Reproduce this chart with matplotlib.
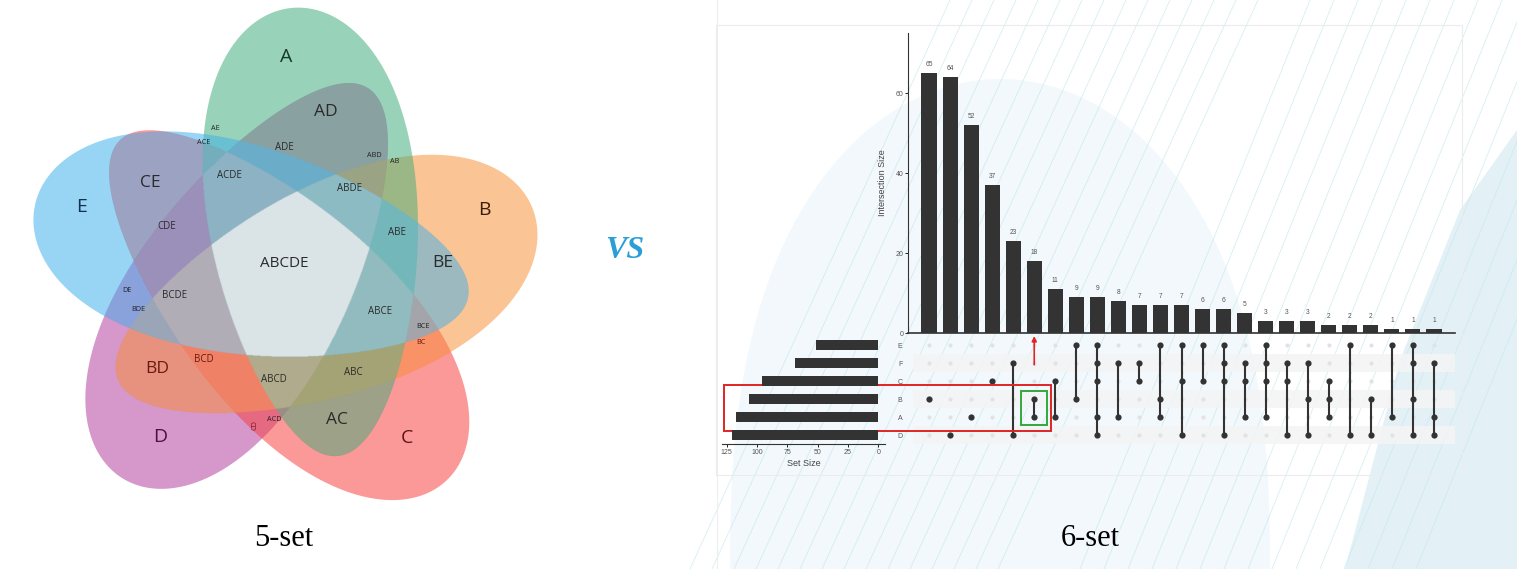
import numpy as np
import matplotlib
matplotlib.use("Agg")
import matplotlib.pyplot as plt
from matplotlib.patches import Polygon, Rectangle
from matplotlib.path import Path

# ---- 5-set venn (left) ----
venn_order = ["D", "C", "B", "A", "E"]          # drawing order
venn_colors = {"A": "#1fa167", "B": "#f77f19", "C": "#f71f1f",
               "D": "#a71f8d", "E": "#1fa5eb"}
# outer tip / inner tip of each petal, in picture pixels
venn_tips = {
    "A": ((291, 8), (338, 456)),
    "B": ((532, 207), (118, 380)),
    "C": ((447, 480), (120, 140)),
    "D": ((122, 478), (368, 88)),
    "E": ((35, 205), (468, 298)),
}
venn_regions = ["A", "AD", "AE", "ACE", "ADE", "ABD", "AB", "ACDE", "ABDE", "CE",
                "E", "B", "CDE", "ABE", "ABCDE", "BE", "DE", "BCDE", "BDE", "ABCE",
                "BCE", "BC", "BCD", "BD", "ABCD", "ABC", "AC", "CD", "ACD", "D", "C"]
venn_label_xy = [(286, 57), (326, 112), (215, 128), (204, 142), (284, 147), (374, 155),
                 (395, 161), (229, 175), (350, 188), (150, 183), (82, 207), (484, 210),
                 (167, 226), (397, 232), (284, 263), (443, 263), (127, 290), (175, 295),
                 (138, 309), (380, 311), (423, 326), (421, 342), (204, 359), (157, 369),
                 (274, 379), (353, 372), (337, 420), (255, 425), (274, 419), (160, 437),
                 (407, 438)]

# ---- 6-set upset (right) ----
upset_rows = ["E", "F", "C", "B", "A", "D"]
set_sizes = [51, 69, 96, 107, 117, 121]
combos = ["B", "D", "A", "C", "FD", "BA", "CA", "EB", "EFCAD", "FA", "FC", "EBA", "ECD",
          "EC", "EFCD", "FCA", "EFCA", "FCD", "FBD", "CBA", "ED", "BD", "EA", "EFBD", "FAD"]
inter_sizes = [65, 64, 52, 37, 23, 18, 11, 9, 9, 8, 7, 7, 7, 6, 6, 5, 3, 3, 3, 2, 2, 2, 1, 1, 1]
highlight_col = 5


def egg(outer, inner, width, k=0.2, n=240):
    o = np.array(outer, float)
    i = np.array(inner, float)
    c = (o + i) / 2
    L = np.linalg.norm(o - i)
    d = (o - i) / L
    nrm = np.array([-d[1], d[0]])
    t = np.linspace(0, 2 * np.pi, n)
    u = L / 2 * np.cos(t)
    v = width / 2 * np.sin(t) * (1 + k * np.cos(t))
    return c + np.outer(u, d) + np.outer(v, nrm)


W, H = 1517, 569
fig = plt.figure(figsize=(W / 100, H / 100), dpi=100)
fig.patch.set_facecolor("white")

canvas = fig.add_axes([0, 0, 1, 1])
canvas.set_xlim(0, W)
canvas.set_ylim(H, 0)
canvas.axis("off")

# background decoration of the right panel
tt = np.linspace(0, np.pi, 80)
hill = np.column_stack([1000 - 270 * np.cos(tt), 569 - 490 * np.sin(tt) ** 0.8])
canvas.add_patch(Polygon(hill, closed=True, facecolor="#e8f4f9", edgecolor="none",
                         alpha=0.55, zorder=0))
canvas.add_patch(Polygon([(1517, 130), (1460, 210), (1400, 360), (1345, 569), (1517, 569)],
                         closed=True, facecolor="#ddeef6", edgecolor="none", alpha=0.8, zorder=0))
for x0 in np.arange(690, 1000, 22):
    canvas.plot([x0, x0 + 260], [569, 0], color="#c4e8ec", lw=0.6, alpha=0.7, zorder=0)
for x0 in np.arange(1080, 1420, 24):
    canvas.plot([x0, x0 + 230], [569, 0], color="#c4e8ec", lw=0.6, alpha=0.7, zorder=0)
canvas.add_patch(Rectangle((716, 25), 746, 450, fill=False, edgecolor="#ececec", lw=0.8, zorder=0))
canvas.plot([717, 717], [0, 569], color="#eeeeee", lw=0.8, zorder=0)

# venn petals
shapes = {}
for s in venn_order:
    o, i = venn_tips[s]
    shapes[s] = egg(o, i, 208)
    canvas.add_patch(Polygon(shapes[s], closed=True, facecolor=venn_colors[s],
                             edgecolor="none", alpha=0.46, zorder=1))

# lighten the deep overlaps, pale core where all five meet
gx, gy = np.meshgrid(np.linspace(0, 560, 1120), np.linspace(0, 500, 1000))
pts = np.column_stack([gx.ravel(), gy.ravel()])
count = np.zeros(len(pts), int)
for s in venn_order:
    count += Path(shapes[s]).contains_points(pts)
count = count.reshape(1000, 1120)
over = np.zeros((1000, 1120, 4))
over[..., :3] = 1.0
over[..., 3] = np.select([count == 2, count == 3, count == 4], [0.06, 0.14, 0.32], 0.0)
core = count == 5
over[core, 0], over[core, 1], over[core, 2] = 226 / 255, 233 / 255, 235 / 255
over[core, 3] = 0.95
canvas.imshow(over, extent=(0, 560, 500, 0), interpolation="bilinear", aspect="auto", zorder=2)
canvas.set_xlim(0, W)
canvas.set_ylim(H, 0)

tint = {"A": "#143a2a", "B": "#3a1e0c", "C": "#5a1515", "D": "#4a1040", "E": "#14324c"}
for name, (x, y) in zip(venn_regions, venn_label_xy):
    rot = 0
    if len(name) == 1:
        fs, col = 14, tint[name]
    elif name == "ABCDE":
        fs, col = 11, "#2a2a2a"
    elif name in ("AD", "CE", "BD", "BE", "AC"):
        fs, col = 12.5, "#2a2a2a"
    elif name in ("AE", "ACE", "ABD", "AB", "DE", "BDE", "BCE", "BC", "CD", "ACD"):
        fs, col = 5.2, "#222222"
        if name == "CD":
            rot, col = 90, "#7a1020"
    else:
        fs, col = 7, "#2a2a2a"
    if name in ("BCD", "BD", "BC"):
        col = "#6a1a10"
    canvas.text(x, y, name, fontsize=fs, color=col, ha="center", va="center", rotation=rot,
                family=["Open Sans", "DejaVu Sans"], zorder=3)

canvas.text(284, 538, "5-set", fontsize=22, family="Liberation Serif", ha="center", va="center")
canvas.text(1090, 538, "6-set", fontsize=22, family="Liberation Serif", ha="center", va="center")
canvas.text(625, 250, "VS", fontsize=23, family="Liberation Serif", weight="bold", style="italic",
            color="#2a9fd6", ha="center", va="center")

# ---- upset axes ----
fx = lambda px: px / W
fy = lambda py: 1 - py / H
sans = ["Liberation Sans", "DejaVu Sans"]
tcol = "#555555"
n = len(combos)

bar_ax = fig.add_axes([fx(908), fy(333), fx(1455) - fx(908), fy(33) - fy(333)])
bar_ax.set_facecolor("none")
bar_ax.bar(range(n), inter_sizes, width=0.72, color="#333333")
for j, v in enumerate(inter_sizes):
    bar_ax.text(j, v + 1.2, str(v), ha="center", va="bottom", fontsize=4.8, color=tcol, family=sans)
bar_ax.set_xlim(-1, n)
bar_ax.set_ylim(0, 75)
bar_ax.set_xticks([])
bar_ax.set_yticks([0, 20, 40, 60])
bar_ax.tick_params(axis="y", labelsize=5, labelcolor=tcol, length=2, width=0.6, pad=1.5)
for lab in bar_ax.get_yticklabels():
    lab.set_family(sans)
for sp in ("top", "right"):
    bar_ax.spines[sp].set_visible(False)
bar_ax.spines["left"].set_linewidth(0.8)
bar_ax.spines["bottom"].set_linewidth(1.2)
bar_ax.spines["left"].set_color("#333333")
bar_ax.spines["bottom"].set_color("#333333")
bar_ax.set_ylabel("Intersection Size", fontsize=6.5, color="#444444", family=sans, labelpad=6)

mat_ax = fig.add_axes([fx(908), fy(444), fx(1455) - fx(908), fy(336) - fy(444)])
mat_ax.set_facecolor("none")
mat_ax.set_xlim(-1, n)
mat_ax.set_ylim(len(upset_rows) - 0.5, -0.5)
for r in range(1, len(upset_rows), 2):
    mat_ax.axhspan(r - 0.5, r + 0.5, xmin=0.01, color="#f4f4f4", alpha=0.85, lw=0, zorder=0)
for j, combo in enumerate(combos):
    act = [r for r, s in enumerate(upset_rows) if s in combo]
    ina = [r for r in range(len(upset_rows)) if r not in act]
    mat_ax.scatter([j] * len(ina), ina, s=9, color="#e2e2e2", zorder=1, lw=0)
    if len(act) > 1:
        mat_ax.plot([j, j], [min(act), max(act)], color="#333333", lw=1.5, zorder=2)
    mat_ax.scatter([j] * len(act), act, s=20, color="#333333", zorder=3, lw=0)
mat_ax.set_xticks([])
mat_ax.set_yticks(range(len(upset_rows)))
mat_ax.set_yticklabels(upset_rows, fontsize=5, color=tcol, family=sans)
mat_ax.tick_params(axis="y", length=0, pad=4)
for sp in mat_ax.spines.values():
    sp.set_visible(False)

# highlight boxes and arrow
rb, ra = upset_rows.index("B"), upset_rows.index("A")
mat_ax.add_patch(Rectangle((-9.75, rb - 0.78), highlight_col + 0.8 + 9.75, ra - rb + 1.56,
                           fill=False, edgecolor="#e02424", lw=1.4, clip_on=False, zorder=4))
mat_ax.add_patch(Rectangle((highlight_col - 0.62, rb - 0.45), 1.24, ra - rb + 0.9,
                           fill=False, edgecolor="#34a83a", lw=1.4, clip_on=False, zorder=4))
mat_ax.annotate("", xy=(highlight_col, -0.65), xytext=(highlight_col, 1.25),
                arrowprops=dict(arrowstyle="-|>", color="#e02424", lw=1.2, mutation_scale=7),
                annotation_clip=False, zorder=5)

size_ax = fig.add_axes([fx(722), fy(444), fx(885) - fx(722), fy(336) - fy(444)])
size_ax.set_facecolor("none")
size_ax.barh(range(len(upset_rows)), set_sizes, height=0.6, color="#333333")
size_ax.set_xlim(128.9, -5.5)
size_ax.set_ylim(len(upset_rows) - 0.5, -0.5)
size_ax.set_yticks([])
size_ax.set_xticks([125, 100, 75, 50, 25, 0])
size_ax.tick_params(axis="x", labelsize=5, labelcolor=tcol, length=2, width=0.6, pad=1.5)
for lab in size_ax.get_xticklabels():
    lab.set_family(sans)
for sp in ("top", "right", "left"):
    size_ax.spines[sp].set_visible(False)
size_ax.spines["bottom"].set_linewidth(0.8)
size_ax.spines["bottom"].set_color("#333333")
size_ax.set_xlabel("Set Size", fontsize=6.5, color="#444444", family=sans, labelpad=2)

fig.savefig("out.png", dpi=100)
